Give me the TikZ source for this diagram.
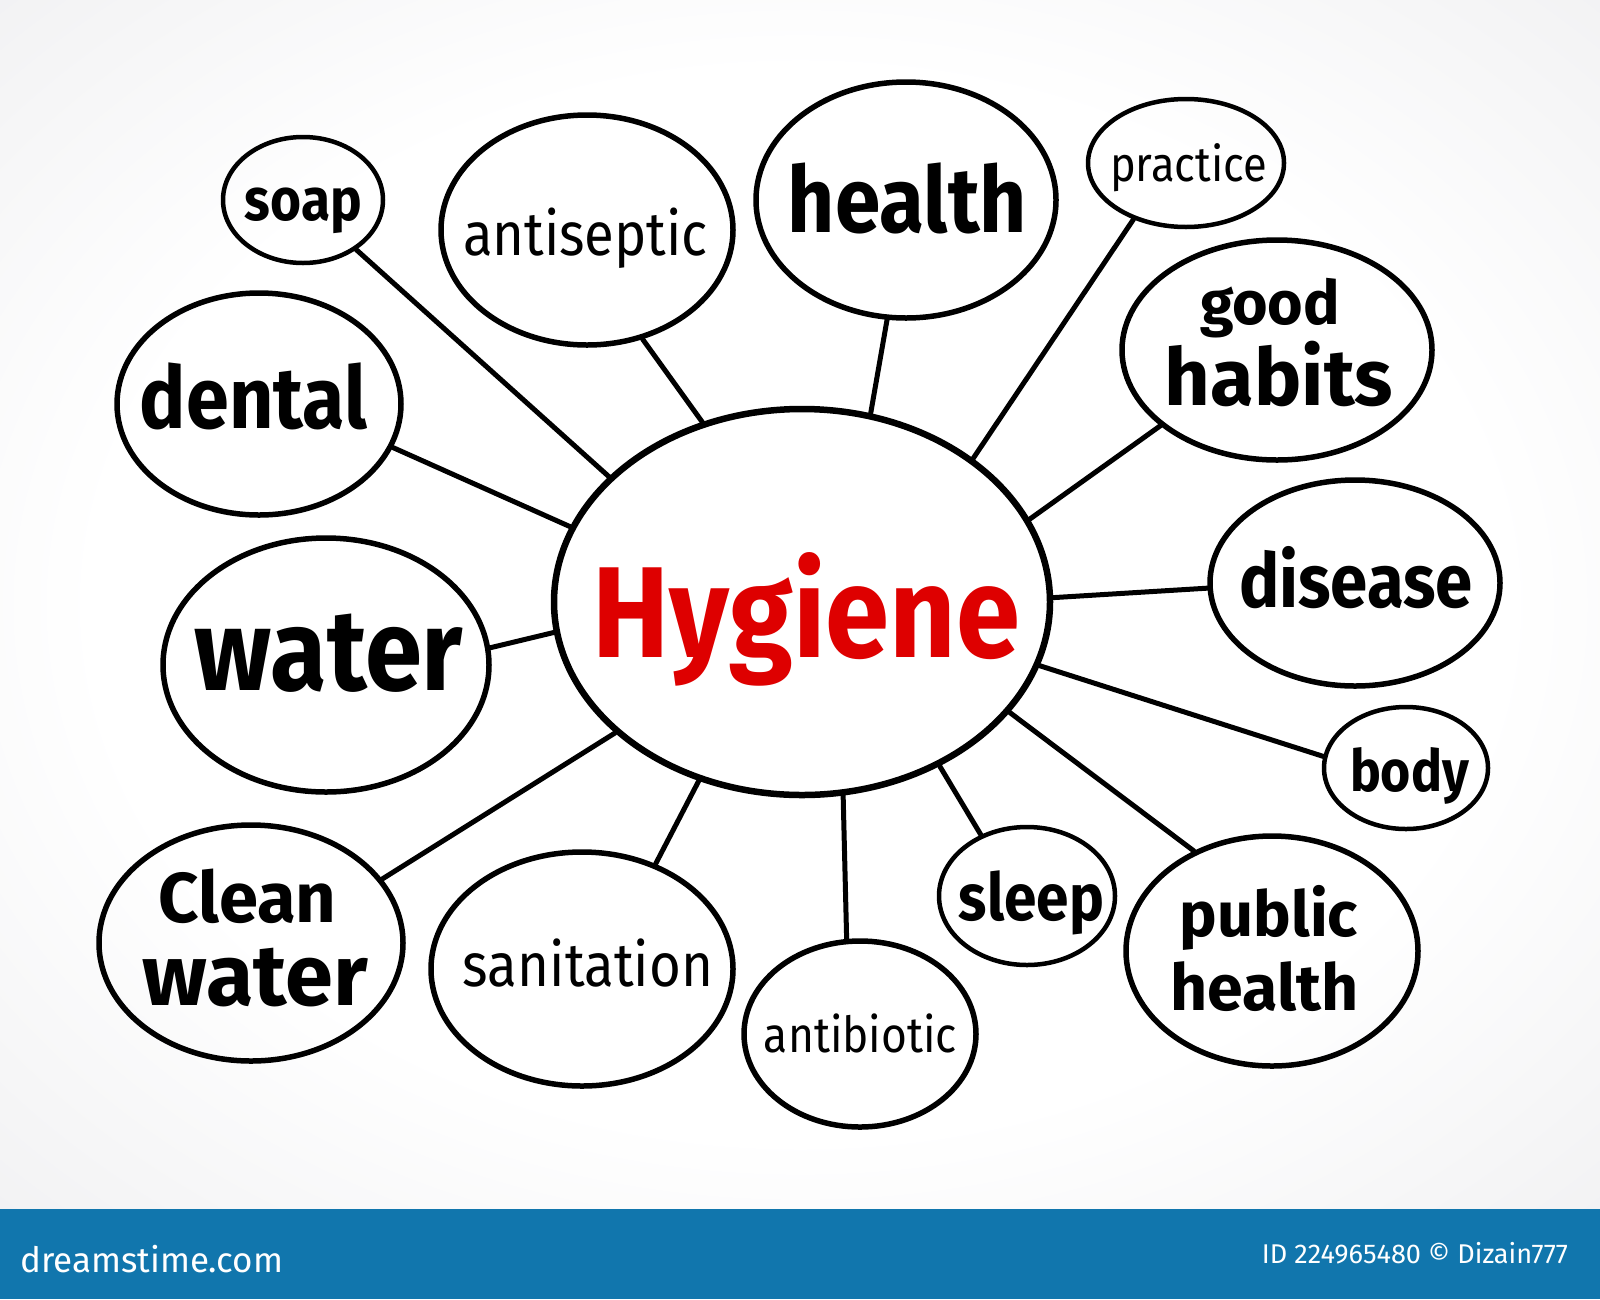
\documentclass[tikz,border=0pt]{standalone}
\usepackage{fontspec}
\setmainfont{Fira Sans}
\usepackage{graphicx}
\usetikzlibrary{shapes.geometric}
\definecolor{hred}{RGB}{222,0,0}
\definecolor{bgg}{RGB}{228,228,231}
\definecolor{barblue}{RGB}{17,118,173}
\pgfdeclareradialshading{bgshade}{\pgfpoint{0bp}{0bp}}{color(0bp)=(white); color(22bp)=(white); color(50bp)=(bgg); color(72bp)=(bgg)}
\newcommand\fw[2]{\resizebox{#1pt}{!}{\scalebox{1}[1.12]{#2}}}
\newcommand\fwn[2]{\resizebox{#1pt}{!}{#2}}
\begin{document}
\begin{tikzpicture}[x=1pt,y=-1pt,
  blob/.style={draw=black, ellipse, line width=5.5pt, inner sep=0pt},
  smallblob/.style={blob, line width=4.5pt},
  word/.style={anchor=base, inner sep=0pt, font=\bfseries},
  lightword/.style={anchor=base, inner sep=0pt, font=\mdseries},
  conn/.style={draw=black, line width=5pt, line cap=round}]
\useasboundingbox (0,0) rectangle (1600,1299);
% background
\shade[shading=bgshade] (0,0) rectangle (1600,1209);
\fill[barblue] (0,1209) rectangle (1600,1299);
\node[anchor=base west, inner sep=0pt, text=white, font=\mdseries] (brand) at (20,1272) {\resizebox{263pt}{!}{dreamstime.com}};
\node[anchor=base east, inner sep=0pt, text=white, font=\mdseries] (imgid) at (1568,1263) {\resizebox{306pt}{!}{ID 224965480 © Dizain777}};

% ellipses
\node[blob, line width=6.5pt, minimum width=496pt, minimum height=386pt] (hyg) at (802,602) {};
\node[smallblob, minimum width=160pt, minimum height=126pt] (soap) at (303,200) {};
\node[blob, minimum width=292pt, minimum height=230pt] (antiseptic) at (587,230) {};
\node[blob, minimum width=300pt, minimum height=236pt] (health) at (906,200) {};
\node[smallblob, minimum width=196pt, minimum height=128pt] (practice) at (1186,163) {};
\node[blob, minimum width=310pt, minimum height=220pt] (habits) at (1277,350) {};
\node[blob, minimum width=284pt, minimum height=222pt] (dental) at (259,404) {};
\node[blob, minimum width=290pt, minimum height=206pt] (disease) at (1355,583) {};
\node[blob, minimum width=326pt, minimum height=254pt] (water) at (326,665) {};
\node[smallblob, minimum width=164pt, minimum height=122pt] (body) at (1406,768) {};
\node[blob, minimum width=304pt, minimum height=236pt] (clean) at (251,943) {};
\node[blob, minimum width=302pt, minimum height=234pt] (sanitation) at (582,969) {};
\node[blob, minimum width=232pt, minimum height=186pt] (antibiotic) at (860,1034) {};
\node[smallblob, minimum width=176pt, minimum height=138pt] (sleep) at (1027,896) {};
\node[blob, minimum width=292pt, minimum height=230pt] (public) at (1272,951) {};

% connectors
\draw[conn] (hyg.147.5) -- (soap.317.8);
\draw[conn] (hyg.119.6) -- (antiseptic.297.6);
\draw[conn] (hyg.70.5) -- (health.261.3);
\draw[conn] (hyg.40.1) -- (practice.227);
\draw[conn] (hyg.20.8) -- (habits.213.6);
\draw[conn] (hyg.162.6) -- (dental.342.4);
\draw[conn] (hyg.1.2) -- (disease.182.8);
\draw[conn] (hyg.187.1) -- (water.6.9);
\draw[conn] (hyg.-15.8) -- (body.172.1);
\draw[conn] (hyg.215.3) -- (clean.26.1);
\draw[conn] (hyg.240.9) -- (sanitation.55.3);
\draw[conn] (hyg.282.1) -- (antibiotic.98.2);
\draw[conn] (hyg.310.7) -- (sleep.127);
\draw[conn] (hyg.332.9) -- (public.128.9);

% texts
\node[word, text=hred] (t-hyg) at (806.5,657) {\fw{427}{Hygiene}};
\node[word] (t-soap) at (303.5,220) {\fw{117}{soap}};
\node[lightword] (t-antiseptic) at (585.5,255) {\fw{245}{antiseptic}};
\node[word] (t-health) at (907.5,232) {\fw{239}{health}};
\node[lightword] (t-practice) at (1188.5,181) {\fw{157}{practice}};
\node[word] (t-good) at (1270,324) {\fwn{140}{good}};
\node[word] (t-habits) at (1279,405) {\fwn{228}{habits}};
\node[word] (t-dental) at (253.5,428) {\fw{227}{dental}};
\node[word] (t-disease) at (1356,607) {\fw{234}{disease}};
\node[word] (t-water) at (329,690) {\fw{268}{water}};
\node[word] (t-body) at (1409.5,791) {\fw{119}{body}};
\node[word] (t-clean) at (247.5,922) {\fwn{178}{Clean}};
\node[word] (t-cwater) at (255.5,1005) {\fwn{225}{water}};
\node[lightword] (t-sanitation) at (588,986) {\fw{250}{sanitation}};
\node[lightword] (t-antibiotic) at (860.5,1052) {\fw{193}{antibiotic}};
\node[word] (t-sleep) at (1031.5,920) {\fw{145}{sleep}};
\node[word] (t-public) at (1269,936) {\fwn{178}{public}};
\node[word] (t-phealth) at (1264.5,1010) {\fwn{188}{health}};
\end{tikzpicture}
\end{document}
